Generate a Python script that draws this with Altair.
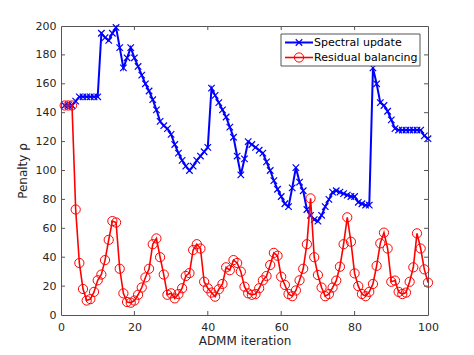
import altair as alt
import pandas as pd

iterations = list(range(1, 101))

spectral = [145, 145, 145, 148, 151, 151, 151, 151, 151, 151,
            195, 192, 190, 195, 199, 185, 171, 178, 185, 178,
            172, 166, 160, 155, 149, 142, 134, 131, 129, 125,
            118, 112, 107, 103, 100, 103, 107, 110, 113, 116,
            157, 152, 147, 142, 137, 130, 123, 110, 97, 108,
            120, 118, 116, 114, 112, 106, 100, 93, 87, 82,
            77, 75, 88, 102, 92, 86, 73, 69, 66, 65,
            69, 75, 80, 85, 86, 85, 84, 83, 82, 82,
            78, 77, 76, 76, 171, 160, 147, 145, 141, 135,
            129, 128, 128, 128, 128, 128, 128, 128, 124, 122]

residual = [145, 145, 145, 73, 36, 18, 10, 11, 16, 24,
            28, 38, 52, 65, 64, 32, 15, 9, 8.5, 10,
            14, 19, 26, 32, 49, 53, 40, 28, 14, 15,
            11.5, 14.5, 18.5, 27, 29, 45, 49, 46, 23, 18.5,
            15.5, 12.7, 17.8, 21.5, 33, 31, 38, 36, 30, 19.6,
            15, 14, 14.5, 18.5, 24, 27, 34.6, 43, 41, 26.5,
            20.8, 14.5, 13, 17, 24, 32, 49, 80.7, 40, 27.7,
            19, 13, 14.5, 19, 23.8, 33.4, 49, 67.6, 50.7, 28.8,
            20, 14.5, 13, 16, 21.5, 34, 49.6, 57, 46, 23,
            23.8, 16, 14.5, 15.5, 23, 33, 56.5, 46, 31.6, 22.4]

x_ticks = [0, 20, 40, 60, 80, 100]
y_ticks = [0, 20, 40, 60, 80, 100, 120, 140, 160, 180, 200]
legend_names = ["Spectral update", "Residual balancing"]

FONT = "DejaVu Sans"
TXT = "#262626"
W, H = 367, 289

df_s = pd.DataFrame({"it": iterations, "val": spectral})
df_r = pd.DataFrame({"it": iterations, "val": residual})

xs = alt.Scale(domain=[0, 100], nice=False)
ys = alt.Scale(domain=[0, 200], nice=False)

x_axis = alt.Axis(values=x_ticks, title="ADMM iteration", grid=False, domain=False,
                  ticks=False, labelPadding=6, titlePadding=3, labelFontSize=11,
                  titleFontSize=12, labelFont=FONT, titleFont=FONT,
                  labelOverlap=False, labelFlush=False,
                  labelColor=TXT, titleColor=TXT, titleFontWeight="normal")
y_axis = alt.Axis(values=y_ticks, title="Penalty ρ", grid=False, domain=False,
                  ticks=False, labelPadding=5, titlePadding=6, labelFontSize=11,
                  titleFontSize=12, labelFont=FONT, titleFont=FONT,
                  labelOverlap=False, labelFlush=False,
                  labelColor=TXT, titleColor=TXT, titleFontWeight="normal")

X = alt.X("it:Q", scale=xs, axis=x_axis)
Y = alt.Y("val:Q", scale=ys, axis=y_axis)

XSHAPE = "M-1,-1L1,1M1,-1L-1,1"

blue_line = alt.Chart(df_s).mark_line(color="#0000ff", strokeWidth=2).encode(x=X, y=Y)
blue_pts = alt.Chart(df_s).mark_point(shape=XSHAPE, size=42, filled=False, color="#0000ff",
                                      strokeWidth=1.2, opacity=1).encode(x=X, y=Y)
red_line = alt.Chart(df_r).mark_line(color="#ff0000", strokeWidth=1.6).encode(x=X, y=Y)
red_pts = alt.Chart(df_r).mark_point(shape="circle", size=85, filled=False, color="#ff0000",
                                     strokeWidth=1, opacity=1).encode(x=X, y=Y)

# inward ticks on all four sides
dx = pd.DataFrame({"t": x_ticks[1:-1]})
dy = pd.DataFrame({"t": y_ticks[1:-1]})
tick_col = "#555555"
TX = alt.X("t:Q", scale=xs, axis=x_axis)
TY = alt.Y("t:Q", scale=ys, axis=y_axis)
tb = alt.Chart(dx).mark_rule(color=tick_col, strokeWidth=1).encode(
    x=TX, y=alt.value(H), y2=alt.value(H - 4))
tt = alt.Chart(dx).mark_rule(color=tick_col, strokeWidth=1).encode(
    x=TX, y=alt.value(0), y2=alt.value(4))
tl = alt.Chart(dy).mark_rule(color=tick_col, strokeWidth=1).encode(
    y=TY, x=alt.value(0), x2=alt.value(4))
tr = alt.Chart(dy).mark_rule(color=tick_col, strokeWidth=1).encode(
    y=TY, x=alt.value(W), x2=alt.value(W - 4))

# legend (manual, MATLAB style)
one = pd.DataFrame({"a": [0]})
box = alt.Chart(one).mark_rect(fill="white", stroke="#555555", strokeWidth=1).encode(
    x=alt.value(220), x2=alt.value(359), y=alt.value(8), y2=alt.value(40))
r1y, r2y = 16.5, 31.5
leg_l1 = alt.Chart(one).mark_rule(color="#0000ff", strokeWidth=2).encode(
    x=alt.value(224), x2=alt.value(252), y=alt.value(r1y))
leg_p1 = alt.Chart(one).mark_point(shape=XSHAPE, size=42, filled=False,
                                   color="#0000ff", strokeWidth=1.2, opacity=1).encode(
    x=alt.value(238), y=alt.value(r1y))
leg_l2 = alt.Chart(one).mark_rule(color="#ff0000", strokeWidth=1.6).encode(
    x=alt.value(224), x2=alt.value(252), y=alt.value(r2y))
leg_p2 = alt.Chart(one).mark_point(shape="circle", size=85, filled=False,
                                   color="#ff0000", strokeWidth=1, opacity=1).encode(
    x=alt.value(238), y=alt.value(r2y))
leg_t1 = alt.Chart(pd.DataFrame({"name": [legend_names[0]]})).mark_text(
    align="left", baseline="middle", font=FONT, fontSize=11, color="black").encode(
    x=alt.value(253), y=alt.value(r1y), text="name:N")
leg_t2 = alt.Chart(pd.DataFrame({"name": [legend_names[1]]})).mark_text(
    align="left", baseline="middle", font=FONT, fontSize=11, color="black").encode(
    x=alt.value(253), y=alt.value(r2y), text="name:N")

chart = alt.layer(
    blue_line, blue_pts, red_line, red_pts, tb, tt, tl, tr,
    box, leg_l1, leg_p1, leg_l2, leg_p2, leg_t1, leg_t2
).properties(
    width=W, height=H, autosize="none",
    padding={"left": 61, "top": 26, "right": 46, "bottom": 40},
    background="white"
).configure_view(stroke="#555555", strokeWidth=1)

chart.save("out.html", embed_options={"renderer": "svg", "actions": False})
